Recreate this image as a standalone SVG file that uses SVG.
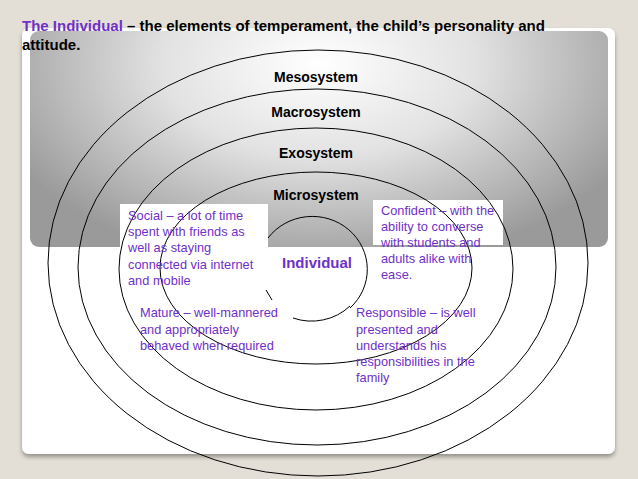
<svg xmlns="http://www.w3.org/2000/svg" width="638" height="479" viewBox="0 0 638 479">
<defs>
<radialGradient id="g" cx="0.5" cy="0.15" r="0.6" gradientTransform="translate(0.5 0.15) scale(1 1.6) translate(-0.5 -0.15)">
<stop offset="0" stop-color="#ffffff"/><stop offset="0.45" stop-color="#e2e2e2"/><stop offset="1" stop-color="#9a9a9a"/>
</radialGradient>
<filter id="sh" x="-5%" y="-5%" width="110%" height="112%"><feDropShadow dx="0" dy="3" stdDeviation="2" flood-color="#000" flood-opacity="0.35"/></filter>
</defs>
<style>
.r{fill:none;stroke:#000;stroke-width:1}
.h{font-family:"Liberation Sans",Arial,sans-serif;font-weight:bold;font-size:14px;fill:#000;text-anchor:middle}
.p{font-family:"Liberation Sans",Arial,sans-serif;font-size:12.8px;fill:#7030c8}
.t{font-family:"Liberation Sans",Arial,sans-serif;font-weight:bold;font-size:15px;fill:#000}
</style>
<rect width="638" height="479" fill="#e3dfd6"/>
<rect x="22" y="28" width="593" height="426" rx="7" fill="#fff" filter="url(#sh)"/>
<rect x="30" y="31" width="578" height="216" rx="9" fill="url(#g)"/>
<rect x="120" y="204" width="148" height="43" fill="#fff"/>
<rect x="373" y="200" width="130" height="45" fill="#fff"/>
<g id="connectors">
<ellipse class="r" cx="318" cy="263" rx="270" ry="213"/>
<ellipse class="r" cx="317" cy="267" rx="239" ry="178"/>
<ellipse class="r" cx="316" cy="269" rx="197" ry="141"/>
<ellipse class="r" cx="316" cy="268" rx="156" ry="96"/>
<path class="r" d="M268,238 A55,53 0 1 1 350,308"/>
<path class="r" d="M293,318 A55,53 0 0 0 350,306"/>
<path class="r" d="M266,290 L272,300"/>
</g>
<g id="title"><text class="t" x="22" y="31"><tspan fill="#7030c8">The Individual</tspan> – the elements of temperament, the child’s personality and</text><text class="t" x="22" y="50">attitude.</text></g>
<g id="meso"><text class="h" x="316" y="82">Mesosystem</text></g>
<g id="macro"><text class="h" x="316" y="117">Macrosystem</text></g>
<g id="exo"><text class="h" x="316" y="158">Exosystem</text></g>
<g id="micro"><text class="h" x="316" y="200">Microsystem</text></g>
<g id="individual"><text x="282" y="268" style="font-family:'Liberation Sans',Arial,sans-serif;font-weight:bold;font-size:15px;fill:#7030c8">Individual</text></g>
<g id="social"><text class="p"><tspan x="128" y="220">Social – a lot of time</tspan><tspan x="128" y="236">spent with friends as</tspan><tspan x="128" y="252">well as staying</tspan><tspan x="128" y="269">connected via internet</tspan><tspan x="128" y="285">and mobile</tspan></text></g>
<g id="confident"><text class="p"><tspan x="381" y="215">Confident – with the</tspan><tspan x="381" y="231">ability to converse</tspan><tspan x="381" y="247">with students and</tspan><tspan x="381" y="263">adults alike with</tspan><tspan x="381" y="279">ease.</tspan></text></g>
<g id="mature"><text class="p"><tspan x="140" y="317">Mature – well-mannered</tspan><tspan x="140" y="334">and appropriately</tspan><tspan x="140" y="350">behaved when required</tspan></text></g>
<g id="responsible"><text class="p"><tspan x="356" y="317">Responsible – is well</tspan><tspan x="356" y="334">presented and</tspan><tspan x="356" y="350">understands his</tspan><tspan x="356" y="366">responsibilities in the</tspan><tspan x="356" y="382">family</tspan></text></g>
</svg>
